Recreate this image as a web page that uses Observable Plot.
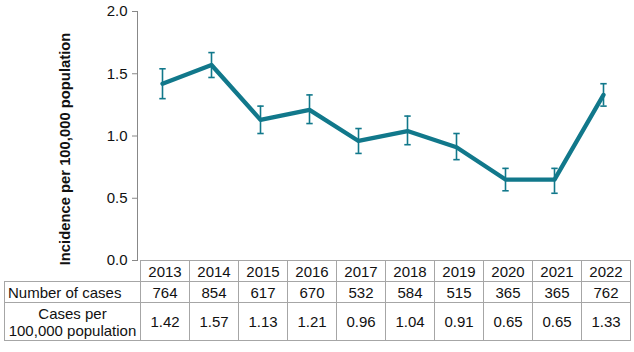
<!DOCTYPE html>
<html>
<head>
<meta charset="utf-8">
<script src="https://cdn.jsdelivr.net/npm/d3@7"></script>
<script src="https://cdn.jsdelivr.net/npm/@observablehq/plot@0.6"></script>
<style>
  body { margin: 0; background: #fff; font-family: "Liberation Sans", Arial, sans-serif; }
  #wrap { position: relative; width: 634px; height: 352px; overflow: hidden; }
  #chart { position: absolute; left: 0; top: 0; }
  #ylabel { position: absolute; left: 65px; top: 149px; transform: translate(-50%, -50%) rotate(-90deg);
            white-space: nowrap; font-weight: bold; font-size: 14.8px; color: #111; }
  table { position: absolute; left: 4px; top: 260px; border-collapse: collapse; font-size: 15px; color: #111; }
  td { border: 1px solid #a6a6a6; text-align: center; padding: 0; line-height: 17px; }
  td.lab { width: 132px; }
  td.c { width: 48px; }
  tr.yr td { height: 20px; }
  tr.n td { height: 20px; }
  tr.r td { height: 37px; }
  td.blank { border: none; border-right: 1px solid #a6a6a6; }
</style>
</head>
<body>
<div id="wrap">
  <div id="chart"></div>
  <div id="ylabel">Incidence per 100,000 population</div>
</div>
<script>
const years = [2013, 2014, 2015, 2016, 2017, 2018, 2019, 2020, 2021, 2022];
const cases = [764, 854, 617, 670, 532, 584, 515, 365, 365, 762];
const rates = [1.42, 1.57, 1.13, 1.21, 0.96, 1.04, 0.91, 0.65, 0.65, 1.33];
const ciLow = [1.30, 1.47, 1.02, 1.10, 0.86, 0.93, 0.81, 0.56, 0.54, 1.24];
const ciHigh = [1.54, 1.67, 1.24, 1.33, 1.06, 1.16, 1.02, 0.74, 0.74, 1.42];
const yTicks = [0, 0.5, 1.0, 1.5, 2.0];
const rowLabels = ["Number of cases", "Cases per<br>100,000 population"];

const data = years.map((y, i) => ({year: y, rate: rates[i], lo: ciLow[i], hi: ciHigh[i]}));
const teal = "#11788b";

const cap = {
  draw(context, size) {
    const r = Math.sqrt(size / Math.PI);
    context.moveTo(-r, 0);
    context.lineTo(r, 0);
  }
};

const chart = Plot.plot({
  width: 634,
  height: 274,
  marginTop: 11,
  marginBottom: 14,
  marginLeft: 137,
  marginRight: 7,
  style: {fontFamily: "Liberation Sans, Arial, sans-serif", fontSize: "15px", color: "#111", background: "transparent"},
  x: {type: "point", domain: years, padding: 0.5, axis: null},
  y: {domain: [0, 2], axis: null},
  marks: [
    Plot.axisY({ticks: yTicks, tickFormat: d3.format(".1f"), tickSize: 5, tickPadding: 5, stroke: "#888", fill: "#111", fontSize: 15, label: null}),
    Plot.ruleX(data, {x: "year", y1: "lo", y2: "hi", stroke: teal, strokeWidth: 1.6}),
    Plot.dot(data, {x: "year", y: "lo", symbol: cap, r: 3.2, stroke: teal, strokeWidth: 1.6, fill: "none"}),
    Plot.dot(data, {x: "year", y: "hi", symbol: cap, r: 3.2, stroke: teal, strokeWidth: 1.6, fill: "none"}),
    Plot.lineY(data, {x: "year", y: "rate", stroke: teal, strokeWidth: 4.3, strokeLinejoin: "round"})
  ]
});
document.getElementById("chart").appendChild(chart);

// y axis line
const svg = d3.select(chart);
svg.append("line")
  .attr("x1", 137.5).attr("x2", 137.5).attr("y1", 11).attr("y2", 261)
  .attr("stroke", "#888");

// table
let html = '<table><tr class="yr"><td class="lab blank"></td>' +
  years.map(y => `<td class="c">${y}</td>`).join("") + '</tr>';
html += `<tr class="n"><td class="lab" style="text-align:left;padding-left:3px">${rowLabels[0]}</td>` +
  cases.map(v => `<td class="c">${v}</td>`).join("") + '</tr>';
html += `<tr class="r"><td class="lab">${rowLabels[1]}</td>` +
  rates.map(v => `<td class="c">${v.toFixed(2)}</td>`).join("") + '</tr></table>';
document.getElementById("wrap").insertAdjacentHTML("beforeend", html);
</script>
</body>
</html>
